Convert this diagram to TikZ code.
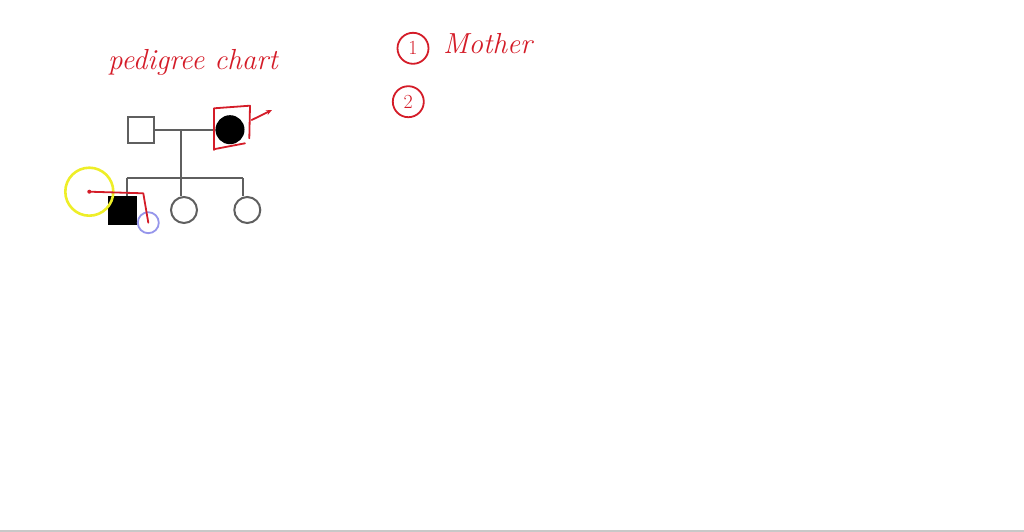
\documentclass[tikz,border=0pt]{standalone}
\usepackage{fontspec}
\usetikzlibrary{arrows.meta}
\definecolor{pen}{RGB}{212,28,40}
\definecolor{lin}{RGB}{95,95,95}
\definecolor{hl}{RGB}{238,238,40}
\definecolor{bl}{RGB}{150,150,235}
\definecolor{rule}{RGB}{200,200,200}
\tikzset{
  male/.style={draw=lin,line width=2pt,minimum size=26pt,inner sep=0pt,fill=white},
  female/.style={draw=lin,line width=2pt,circle,minimum size=26pt,inner sep=0pt,fill=white},
  aff/.style={fill=black,draw=black},
  rel/.style={draw=lin,line width=2pt},
  ink/.style={draw=pen,line width=1.8pt,line cap=round,line join=round},
  hand/.style={text=pen,font=\itshape\fontsize{29}{29}\selectfont,inner sep=0pt},
  num/.style={draw=pen,line width=1.8pt,circle,minimum size=31pt,inner sep=0pt,text=pen,font=\fontsize{20}{20}\selectfont}
}
\begin{document}
\begin{tikzpicture}[x=1pt,y=-1pt]
\useasboundingbox (0,0) rectangle (1024,532);
\fill[rule] (0,529.5) rectangle (1024,532);
% pedigree
\node[male] (father) at (140.7,129.7) {};
\node[female,aff,minimum size=27pt] (mother) at (230,129.7) {};
\node[male,aff,minimum size=27pt] (son) at (122.5,210) {};
\node[female] (d1) at (184,210) {};
\node[female] (d2) at (247.3,210) {};
\coordinate (mid) at (180.7,129.7);
\coordinate (sib) at (180.7,178.3);
\coordinate (sl) at (126.7,178.3);
\coordinate (sr) at (243.3,178.3);
\draw[rel] (father.east) -- (mother.west);
\draw[rel] (mid) -- (sib);
\draw[rel] (sl) -- (sr);
\draw[rel] (sl) -- (126.7,196);
\draw[rel] (sib) -- (d1.north -| sib);
\draw[rel] (sr) -- (d2.north -| sr);
% red annotations
\draw[ink] (214,150) -- (214,108.3) -- (250,105.7) -- (249.3,138.3);
\draw[ink] (215,149) -- (245,143.3);
\coordinate (a0) at (251.7,120);
\coordinate (a1) at (272,110);
\draw[ink,-{Stealth[length=6pt,width=5pt]}] (a0) -- (a1);
\node[draw=hl,line width=2.6pt,circle,minimum size=48pt,inner sep=0pt] (yc) at (89.3,191.7) {};
\node[draw=bl,line width=1.8pt,circle,minimum size=21pt,inner sep=0pt] (bc) at (148.3,222.7) {};
\fill[pen] (yc.center) circle (2pt);
\draw[ink] (yc.center) -- (143.3,193.3) -- (bc.center);
% texts
\node[hand,anchor=west] (title) at (108,62) {pedigree chart};
\node[num] (n1) at (413,48.3) {1};
\node[hand,anchor=west] (mot) at (443,44) {Mother};
\node[num] (n2) at (408.3,101.7) {2};
\end{tikzpicture}
\end{document}
